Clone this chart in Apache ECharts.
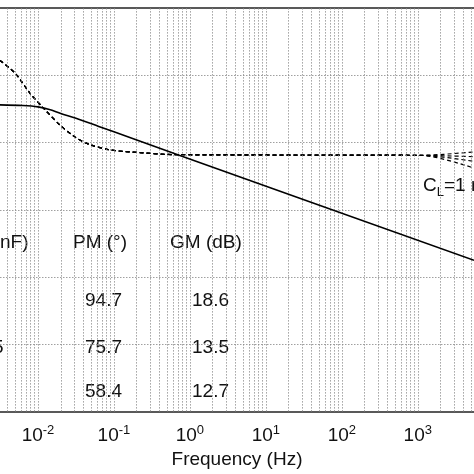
<!DOCTYPE html>
<html><head><meta charset="utf-8">
<script src="https://cdn.jsdelivr.net/npm/echarts@6/dist/echarts.min.js"></script>
<style>html,body{margin:0;padding:0;background:#fff}#c{width:474px;height:474px}</style>
</head><body><div id="c"></div>
<script>
// x values are log10(frequency in Hz)
const solidX = [-2.5, -2.2, -2.0, -1.85, -1.7, -1.5, -1.2, -0.8, -0.16, 3.74];
const solidY = [4.56, 4.55, 4.53, 4.49, 4.43, 4.36, 4.24, 4.08, 3.82, 2.25];
const dashX = [-2.5, -2.30, -2.11, -1.91, -1.71, -1.51, -1.32, -1.05, -0.66, -0.2, 3.03, 3.74];
const dashY = [5.22, 5.03, 4.74, 4.49, 4.26, 4.08, 3.97, 3.89, 3.85, 3.82, 3.81];
const fanEnds = [3.86, 3.79, 3.72, 3.62];
const decades = [-3, -2, -1, 0, 1, 2, 3];
const tableHeaders = ['nF)', 'PM (°)', 'GM (dB)'];
const pmValues = ['94.7', '75.7', '58.4'];
const gmValues = ['18.6', '13.5', '12.7'];
const firstCol = ['', '5', ''];

const gridX = [];
decades.forEach(d => { for (let k = 1; k <= 9; k++) gridX.push(d + Math.log10(k)); });
const vis = gridX.filter(v => v > -2.5 && v < 3.74);

const series = [];
series.push({type:'line', data: solidX.map((x,i)=>[x, solidY[i]]), symbol:'none', smooth:0.3,
  lineStyle:{color:'#000', width:1.6}, z:5,
  markLine:{silent:true, symbol:'none', label:{show:false},
    lineStyle:{color:'#888', type:[1.5,1.5], width:0.8},
    data: vis.map(v=>({xAxis:v})).concat([1,2,3,4,5].map(v=>({yAxis:v})))}
});
fanEnds.forEach(e => {
  const pts = dashX.slice(0, dashY.length).map((x,i)=>[x, dashY[i]]);
  pts.push([dashX[dashX.length-1], e]);
  series.push({type:'line', data: pts, symbol:'none', z:4, smooth:0.3,
    lineStyle:{color:'#000', width:1.2, type:[4,3]}});
});

const font = '"Liberation Sans", Arial, sans-serif';
const txt = (s, x, y) => ({type:'text', left:x, top:y, style:{text:s, font:'19px '+font, fill:'#111'}});
const g = [];
g.push(txt(tableHeaders[0], 0, 233), txt(tableHeaders[1], 73, 233), txt(tableHeaders[2], 170, 233));
const rowsY = [291, 338, 382];
rowsY.forEach((y,i)=>{ g.push(txt(firstCol[i], -7, y), txt(pmValues[i], 85, y), txt(gmValues[i], 192, y)); });
g.push({type:'text', left:423, top:176, style:{text:'{a|C}{s|L}{a|=1 nF}', font:'19px '+font,
  rich:{a:{fontSize:19, fontFamily:font, fill:'#111'}, s:{fontSize:13, fontFamily:font, fill:'#111', padding:[13,0,0,0]}}}});

const chart = echarts.init(document.getElementById('c'));
chart.setOption({
  backgroundColor:'#fff', animation:false,
  grid:{left:0, right:0, top:8, bottom:53},
  xAxis:{type:'value', min:-2.5, max:3.74, interval:0.5,
    axisLine:{lineStyle:{color:'#222', width:1.5}}, axisTick:{show:false}, splitLine:{show:false},
    axisLabel:{showMinLabel:false, showMaxLabel:false, margin:12, formatter:v=>Number.isInteger(v)?'{b|10}{s|'+v+'}':'',
      rich:{b:{fontSize:19, fontFamily:font, color:'#111'}, s:{fontSize:13, fontFamily:font, color:'#111', padding:[0,0,11,0]}}},
    name:'Frequency (Hz)', nameLocation:'middle', nameGap:38,
    nameTextStyle:{fontSize:19, fontFamily:font, color:'#111'}},
  yAxis:{type:'value', min:0, max:6, interval:1, axisLabel:{show:false}, axisTick:{show:false},
    axisLine:{show:false}, splitLine:{show:false}},
  graphic: g.concat([{type:'line', shape:{x1:0,y1:8,x2:474,y2:8}, style:{stroke:'#222', lineWidth:1.5}}]),
  series
});
</script></body></html>
